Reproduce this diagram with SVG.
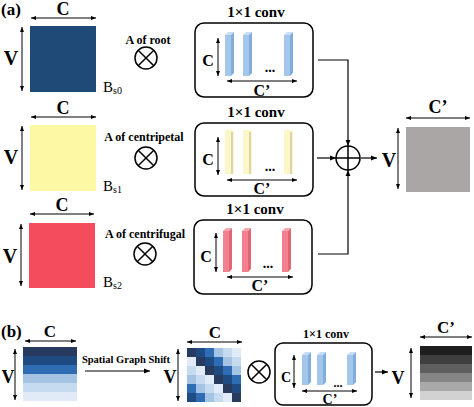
<svg xmlns="http://www.w3.org/2000/svg" width="474" height="407" viewBox="0 0 474 407">
<style>
text{font-family:"Liberation Serif","Times New Roman",serif;fill:#000}
.b{font-weight:bold}
.dim{stroke:#000;stroke-width:1;fill:none;marker-start:url(#ah);marker-end:url(#ah)}
.con{stroke:#000;stroke-width:1.2;fill:none;marker-end:url(#ah2)}
.box{fill:#fff;stroke:#000;stroke-width:1.5}
.op{fill:#fff;stroke:#000;stroke-width:1.5}
.m1{fill:#283a5e}.m2{fill:#1e4c82}.m3{fill:#2e6db4}.m4{fill:#a5c4e4}.m5{fill:#c6daf0}.m6{fill:#e0ebf7}
</style>
<defs>
<marker id="ah" viewBox="0 0 10 10" refX="10" refY="5" markerWidth="5" markerHeight="5" markerUnits="userSpaceOnUse" orient="auto-start-reverse"><path d="M0,1 L10,5 L0,9 z" fill="#000"/></marker>
<marker id="ah2" viewBox="0 0 10 10" refX="10" refY="5" markerWidth="6" markerHeight="6" markerUnits="userSpaceOnUse" orient="auto"><path d="M0,1 L10,5 L0,9 z" fill="#000"/></marker>
<g id="barBlue"><polygon points="0,3 3,0 9,0 6,3" fill="#c8def3"/><rect x="0" y="3" width="6" height="41" fill="#a3c6ea"/><polygon points="6,3 9,0 9,41 6,44" fill="#80addb"/></g>
<g id="barYellow"><rect x="0" y="0" width="9" height="44" fill="#fbf7c8"/><line x1="7" y1="2" x2="7" y2="44" stroke="#b9b38c" stroke-width="1"/></g>
<g id="barPink"><polygon points="0,3 3,0 9,0 6,3" fill="#f6a7b0"/><rect x="0" y="3" width="6" height="41" fill="#f2808e"/><polygon points="6,3 9,0 9,41 6,44" fill="#de6676"/></g>
<g id="barBlueS"><polygon points="0,3 3,0 9,0 6,3" fill="#c8def3"/><rect x="0" y="3" width="6" height="30" fill="#a3c6ea"/><polygon points="6,3 9,0 9,30 6,33" fill="#80addb"/></g>
<g id="otimes"><circle cx="0" cy="0" r="11" class="op"/><path d="M-7.8,-7.8 L7.8,7.8 M-7.8,7.8 L7.8,-7.8" stroke="#000" stroke-width="1.5"/></g>
</defs>

<text x="1" y="15" class="b" font-size="17">(a)</text>

<!-- Row 1 -->
<g id="input-root">
<text x="63" y="15" class="b" font-size="18" text-anchor="middle">C</text>
<line x1="31" y1="18" x2="96" y2="18" class="dim"/>
<rect x="30" y="26" width="66" height="66" fill="#1f4a78"/>
<line x1="22" y1="27" x2="22" y2="91" class="dim"/>
<text x="11" y="65" class="b" font-size="20" text-anchor="middle">V</text>
<text x="103" y="92" font-size="15">B<tspan font-size="10" dy="2">s0</tspan></text>
</g>
<g id="op-root">
<text x="148" y="44" class="b" font-size="12" text-anchor="middle">A of root</text>
<use href="#otimes" x="146" y="58"/>
</g>
<g id="conv-root">
<text x="256" y="17" class="b" font-size="15" text-anchor="middle">1×1 conv</text>
<rect x="195" y="23" width="118" height="74" rx="9" class="box"/>
<line x1="218" y1="38" x2="218" y2="76" class="dim"/>
<text x="208" y="66" class="b" font-size="16" text-anchor="middle">C</text>
<use href="#barBlue" x="225" y="32"/>
<use href="#barBlue" x="243" y="32"/>
<use href="#barBlue" x="284" y="32"/>
<text x="270" y="72" class="b" font-size="14" text-anchor="middle">...</text>
<line x1="227" y1="81" x2="297" y2="81" class="dim"/>
<text x="262" y="96" class="b" font-size="16" text-anchor="middle">C’</text>
</g>

<!-- Row 2 -->
<g id="input-centripetal">
<text x="63" y="114" class="b" font-size="18" text-anchor="middle">C</text>
<line x1="31" y1="117" x2="96" y2="117" class="dim"/>
<rect x="30" y="125" width="66" height="66" fill="#fcf8a3"/>
<line x1="22" y1="126" x2="22" y2="190" class="dim"/>
<text x="11" y="164" class="b" font-size="20" text-anchor="middle">V</text>
<text x="103" y="191" font-size="15">B<tspan font-size="10" dy="2">s1</tspan></text>
</g>
<g id="op-centripetal">
<text x="144" y="141" class="b" font-size="12" text-anchor="middle">A of centripetal</text>
<use href="#otimes" x="146" y="158"/>
</g>
<g id="conv-centripetal">
<text x="256" y="117" class="b" font-size="15" text-anchor="middle">1×1 conv</text>
<rect x="195" y="123" width="118" height="73" rx="9" class="box"/>
<line x1="218" y1="137" x2="218" y2="175" class="dim"/>
<text x="208" y="165" class="b" font-size="16" text-anchor="middle">C</text>
<use href="#barYellow" x="225" y="130"/>
<use href="#barYellow" x="243" y="130"/>
<use href="#barYellow" x="284" y="130"/>
<text x="270" y="171" class="b" font-size="14" text-anchor="middle">...</text>
<line x1="227" y1="180" x2="297" y2="180" class="dim"/>
<text x="262" y="194" class="b" font-size="16" text-anchor="middle">C’</text>
</g>

<!-- Row 3 -->
<g id="input-centrifugal">
<text x="62" y="211" class="b" font-size="18" text-anchor="middle">C</text>
<line x1="30" y1="214" x2="94" y2="214" class="dim"/>
<rect x="29" y="223" width="66" height="65" fill="#f44c5c"/>
<line x1="21" y1="224" x2="21" y2="286" class="dim"/>
<text x="10" y="263" class="b" font-size="20" text-anchor="middle">V</text>
<text x="103" y="287" font-size="15">B<tspan font-size="10" dy="2">s2</tspan></text>
</g>
<g id="op-centrifugal">
<text x="145" y="238" class="b" font-size="12" text-anchor="middle">A of centrifugal</text>
<use href="#otimes" x="145" y="254"/>
</g>
<g id="conv-centrifugal">
<text x="255" y="214" class="b" font-size="15" text-anchor="middle">1×1 conv</text>
<rect x="194" y="220" width="118" height="74" rx="9" class="box"/>
<line x1="216" y1="233" x2="216" y2="272" class="dim"/>
<text x="206" y="262" class="b" font-size="16" text-anchor="middle">C</text>
<use href="#barPink" x="223" y="228"/>
<use href="#barPink" x="242" y="228"/>
<use href="#barPink" x="282" y="228"/>
<text x="268" y="268" class="b" font-size="14" text-anchor="middle">...</text>
<line x1="227" y1="277" x2="293" y2="277" class="dim"/>
<text x="260" y="291" class="b" font-size="16" text-anchor="middle">C’</text>
</g>

<!-- Sum and output -->
<g id="sum">
<circle cx="348" cy="158" r="12" class="op"/>
<path d="M336,158 H360 M348,146 V170" stroke="#000" stroke-width="1.5"/>
</g>
<g id="output-a">
<text x="438" y="113" class="b" font-size="18" text-anchor="middle">C’</text>
<line x1="406" y1="118" x2="470" y2="118" class="dim"/>
<rect x="406" y="127" width="64" height="65" fill="#aaa6a6"/>
<line x1="398" y1="128" x2="398" y2="189" class="dim"/>
<text x="389" y="167" class="b" font-size="20" text-anchor="middle">V</text>
</g>

<!-- (b) -->
<text x="1" y="337" class="b" font-size="17">(b)</text>
<g id="input-b">
<text x="50" y="337" class="b" font-size="17" text-anchor="middle">C</text>
<line x1="25" y1="341" x2="76" y2="341" class="dim"/>
<rect x="23" y="347" width="54" height="9" class="m1"/>
<rect x="23" y="356" width="54" height="9" class="m2"/>
<rect x="23" y="365" width="54" height="9" class="m3"/>
<rect x="23" y="374" width="54" height="9" class="m4"/>
<rect x="23" y="383" width="54" height="9" class="m5"/>
<rect x="23" y="392" width="54" height="9" class="m6"/>
<line x1="15" y1="349" x2="15" y2="400" class="dim"/>
<text x="8" y="383" class="b" font-size="18" text-anchor="middle">V</text>
</g>
<g id="shift-label">
<text x="126" y="363" class="b" font-size="10.5" text-anchor="middle">Spatial Graph Shift</text>
</g>
<g id="matrix-b">
<text x="215" y="338" class="b" font-size="17" text-anchor="middle">C</text>
<line x1="187" y1="342" x2="242" y2="342" class="dim"/>
<rect x="187" y="348" width="9" height="9" class="m1"/><rect x="196" y="348" width="9" height="9" class="m2"/><rect x="205" y="348" width="9" height="9" class="m3"/><rect x="214" y="348" width="9" height="9" class="m4"/><rect x="223" y="348" width="9" height="9" class="m5"/><rect x="232" y="348" width="9" height="9" class="m6"/>
<rect x="187" y="357" width="9" height="9" class="m6"/><rect x="196" y="357" width="9" height="9" class="m1"/><rect x="205" y="357" width="9" height="9" class="m2"/><rect x="214" y="357" width="9" height="9" class="m3"/><rect x="223" y="357" width="9" height="9" class="m4"/><rect x="232" y="357" width="9" height="9" class="m5"/>
<rect x="187" y="366" width="9" height="9" class="m5"/><rect x="196" y="366" width="9" height="9" class="m6"/><rect x="205" y="366" width="9" height="9" class="m1"/><rect x="214" y="366" width="9" height="9" class="m2"/><rect x="223" y="366" width="9" height="9" class="m3"/><rect x="232" y="366" width="9" height="9" class="m4"/>
<rect x="187" y="375" width="9" height="9" class="m4"/><rect x="196" y="375" width="9" height="9" class="m5"/><rect x="205" y="375" width="9" height="9" class="m6"/><rect x="214" y="375" width="9" height="9" class="m1"/><rect x="223" y="375" width="9" height="9" class="m2"/><rect x="232" y="375" width="9" height="9" class="m3"/>
<rect x="187" y="384" width="9" height="9" class="m3"/><rect x="196" y="384" width="9" height="9" class="m4"/><rect x="205" y="384" width="9" height="9" class="m5"/><rect x="214" y="384" width="9" height="9" class="m6"/><rect x="223" y="384" width="9" height="9" class="m1"/><rect x="232" y="384" width="9" height="9" class="m2"/>
<rect x="187" y="393" width="9" height="9" class="m2"/><rect x="196" y="393" width="9" height="9" class="m3"/><rect x="205" y="393" width="9" height="9" class="m4"/><rect x="214" y="393" width="9" height="9" class="m5"/><rect x="223" y="393" width="9" height="9" class="m6"/><rect x="232" y="393" width="9" height="9" class="m1"/>
<line x1="178" y1="349" x2="178" y2="401" class="dim"/>
<text x="170" y="383" class="b" font-size="18" text-anchor="middle">V</text>
</g>
<g id="op-b">
<circle cx="259" cy="372" r="11" class="op"/>
<path d="M251.2,364.2 L266.8,379.8 M251.2,379.8 L266.8,364.2" stroke="#000" stroke-width="1.5"/>
</g>
<g id="conv-b">
<text x="326" y="338" class="b" font-size="12" text-anchor="middle">1×1 conv</text>
<rect x="275" y="343" width="97" height="62" rx="8" class="box"/>
<line x1="294" y1="355" x2="294" y2="388" class="dim"/>
<text x="286" y="382" class="b" font-size="14" text-anchor="middle">C</text>
<use href="#barBlueS" x="302" y="352"/>
<use href="#barBlueS" x="317" y="352"/>
<use href="#barBlueS" x="347" y="352"/>
<text x="338" y="387" class="b" font-size="12" text-anchor="middle">...</text>
<line x1="302" y1="391" x2="357" y2="391" class="dim"/>
<text x="330" y="404" class="b" font-size="14" text-anchor="middle">C’</text>
</g>
<g id="output-b">
<text x="446" y="333" class="b" font-size="17" text-anchor="middle">C’</text>
<line x1="420" y1="337" x2="472" y2="337" class="dim"/>
<rect x="420" y="346" width="52" height="9" fill="#1e1e1e"/>
<rect x="420" y="355" width="52" height="9" fill="#3e3e3e"/>
<rect x="420" y="364" width="52" height="9" fill="#5f5f5f"/>
<rect x="420" y="373" width="52" height="9" fill="#858585"/>
<rect x="420" y="382" width="52" height="9" fill="#a9a9a9"/>
<rect x="420" y="391" width="52" height="9" fill="#d2d2d2"/>
<line x1="411" y1="348" x2="411" y2="398" class="dim"/>
<text x="398" y="384" class="b" font-size="18" text-anchor="middle">V</text>
</g>

<g id="connectors">
<path d="M318,60 H348 V146" class="con"/>
<path d="M317,158 H336" class="con"/>
<path d="M318,254 H348 V170" class="con"/>
<path d="M361,158 H377" class="con"/>
<path d="M85,371 H150" class="con"/>
<path d="M375,372 H388" class="con"/>
</g>
</svg>
